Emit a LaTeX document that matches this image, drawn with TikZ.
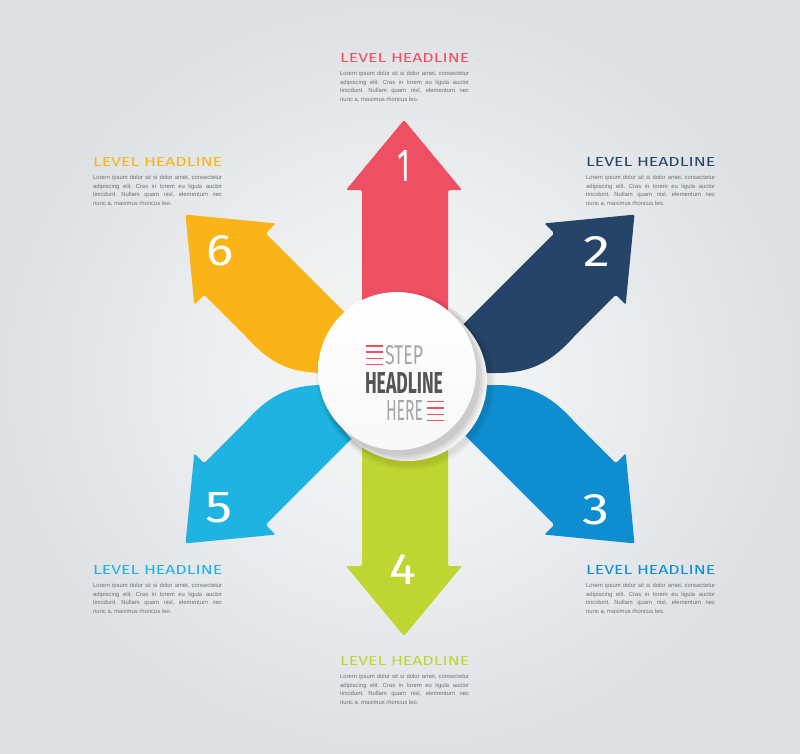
\documentclass[tikz,border=0pt]{standalone}
\usepackage{fontspec}
\usepackage{graphicx}
\setmainfont{Liberation Sans}
\newfontfamily\hlfont{Fira Sans}
\frenchspacing
\definecolor{cRed}{HTML}{EF4F63}
\definecolor{cNavy}{HTML}{264468}
\definecolor{cBlue}{HTML}{0E8ED1}
\definecolor{cGreen}{HTML}{BFD531}
\definecolor{cCyan}{HTML}{1EB3E0}
\definecolor{cOrange}{HTML}{FBB418}
\definecolor{bgIn}{HTML}{F8F9F9}
\definecolor{bgOut}{HTML}{DEE1E4}
\definecolor{bodyGray}{HTML}{6E6E6E}
\definecolor{stepGray}{HTML}{A6A6A6}
\definecolor{headGray}{HTML}{555555}
\definecolor{diskGray}{HTML}{F1F1F1}
\tikzset{
  arrowbody/.style={rounded corners=1.5pt},
  numlabel/.style={text=white, inner sep=0pt, font=\hlfont},
  hl/.style={anchor=base west, inner sep=0pt, font=\hlfont},
  bodyline/.style={anchor=base west, inner sep=0pt, text=bodyGray, font=\fontsize{5.9}{7}\selectfont\frenchspacing},
  redbar/.style={cRed, line width=1.5pt}
}
\newcommand\diagpath{(31.1,-32.5) -- (144.3,-145.7) -- (134.4,-155.6) -- (224.5,-164.4) -- (215.7,-74.3) -- (205.8,-84.2) -- (163.4,-41.7) .. controls (140,-16) and (120,-6) .. (85,-6) -- (5,-6) -- cycle}
\newcommand\lvlblock[4]{%
  \node[hl, text=#4] (#1-h) at (#2,#3) {\resizebox{129pt}{9pt}{LEVEL HEADLINE}};
  \node[bodyline] (#1-a) at (#2,#3+13.5) {\makebox[129pt][s]{Lorem ipsum dolor sit si dolor amet, consectetur}};
  \node[bodyline] (#1-b) at (#2,#3+22) {\makebox[129pt][s]{adipiscing elit. Cras in lorem eu ligula auctor}};
  \node[bodyline] (#1-c) at (#2,#3+30.5) {\makebox[129pt][s]{tincidunt. Nullam quam nisl, elementum nec}};
  \node[bodyline] (#1-d) at (#2,#3+39) {nunc a, maximus rhoncus leo.};
}
\begin{document}
\begin{tikzpicture}[x=1pt,y=-1pt]
\useasboundingbox (0,0) rectangle (800,753);
\shade[inner color=bgIn, outer color=bgOut] (0,0) rectangle (800,753);

% vertical arrows
\fill[cRed, arrowbody] (362,372) -- (362,190) -- (346,190) -- (404,120) -- (462,190) -- (448,190) -- (448,372) -- cycle;
\fill[cGreen, arrowbody] (362,380) -- (362,566) -- (346,566) -- (404,636) -- (462,566) -- (448,566) -- (448,380) -- cycle;

% diagonal arrows
\begin{scope}[shift={(410,379)}]
  \fill[cNavy, arrowbody] \diagpath;
\end{scope}
\begin{scope}[shift={(410,379)}, yscale=-1]
  \fill[cBlue, arrowbody] \diagpath;
\end{scope}
\begin{scope}[shift={(410,379)}, xscale=-1]
  \fill[cOrange, arrowbody] \diagpath;
\end{scope}
\begin{scope}[shift={(410,379)}, xscale=-1, yscale=-1]
  \fill[cCyan, arrowbody] \diagpath;
\end{scope}

% soft shadow of the back disk
\foreach \r in {86,84,82} {
  \fill[black, opacity=0.03] (409,384) circle (\r);
}
% back disk
\shade[top color=white, bottom color=diskGray] (407,381) circle (80);
% soft shadow of the front disk onto the back disk
\foreach \r in {85,83,81,79.5} {
  \fill[black, opacity=0.045] (401,376) circle (\r);
}
% front disk
\shade[top color=white, bottom color=white!97!black] (397,371) circle (79);

% circle text
\node[inner sep=0pt, text=stepGray, font=\hlfont] (step) at (404,355.5) {\resizebox{38pt}{19pt}{STEP}};
\node[inner sep=0pt, text=headGray, font=\hlfont\bfseries] (headline) at (404,383) {\resizebox{78pt}{21pt}{HEADLINE}};
\node[inner sep=0pt, text=stepGray, font=\hlfont] (here) at (404.5,410.5) {\resizebox{37pt}{20pt}{HERE}};
\foreach \yy in {346,352,358.5,364.5} { \draw[redbar] (366,\yy) -- (383,\yy); }
\foreach \yy in {401.5,408,414.5,420.5} { \draw[redbar] (427,\yy) -- (444,\yy); }

% numbers
\node[numlabel] (n1) at (404,166) {\resizebox{13pt}{31pt}{1}};
\node[numlabel] (n2) at (597,251) {\resizebox{27pt}{30pt}{2}};
\node[numlabel] (n3) at (596,510) {\resizebox{27pt}{30pt}{3}};
\node[numlabel] (n4) at (403,569) {\resizebox{27pt}{30pt}{4}};
\node[numlabel] (n5) at (219,508) {\resizebox{27pt}{30pt}{5}};
\node[numlabel] (n6) at (220,251) {\resizebox{27pt}{30pt}{6}};

% text blocks
\lvlblock{t1}{340}{62}{cRed}
\lvlblock{t6}{93}{166}{cOrange}
\lvlblock{t2}{586}{166}{cNavy}
\lvlblock{t5}{93}{574}{cCyan}
\lvlblock{t3}{586}{574}{cBlue}
\lvlblock{t4}{340}{665}{cGreen}
\end{tikzpicture}
\end{document}
